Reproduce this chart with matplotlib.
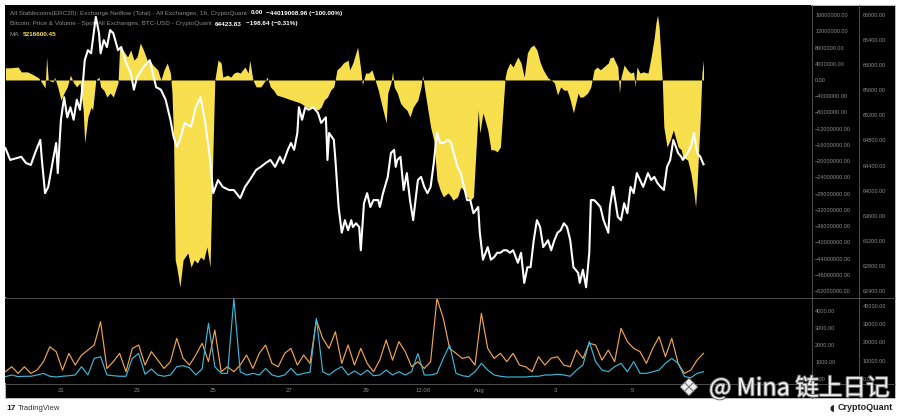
import numpy as np
import pandas as pd
import matplotlib
matplotlib.use("Agg")
import matplotlib.pyplot as plt
from matplotlib.lines import Line2D
from matplotlib.patches import Rectangle
import matplotlib.patheffects as pe

plt.rcParams['font.family'] = ['Liberation Sans', 'DejaVu Sans']

START = pd.Timestamp('2024-07-19 13:00')

# BTC price (hours after START, USD)
price_hours = [0, 3, 10, 13, 16, 19, 22, 23, 25, 27,
               30, 32, 33, 35, 37, 39, 41, 43, 45, 47,
               49, 50, 52, 54, 57, 59, 60, 62, 64, 66,
               68, 71, 73, 76, 79, 81, 83, 87, 91, 95,
               98, 101, 104, 106, 108, 110, 113, 117, 120, 123,
               126, 129, 131, 134, 137, 141, 144, 148, 151, 154,
               158, 161, 164, 167, 170, 173, 175, 178, 180, 182,
               184, 185, 187, 189, 191, 194, 197, 199, 202, 203,
               204, 207, 208, 210, 212, 214, 216, 218, 219, 221,
               223, 224, 226, 228, 230, 232, 235, 236, 238, 241,
               243, 245, 246, 247, 249, 251, 253, 255, 257, 260,
               262, 264, 266, 268, 270, 272, 274, 276, 279, 281,
               282, 285, 287, 289, 291, 293, 295, 298, 299, 301,
               304, 306, 308, 310, 312, 314, 316, 318, 320, 323,
               325, 327, 329, 331, 333, 335, 337, 339, 342, 344,
               346, 348, 350, 352, 354, 356, 358, 361, 362, 364,
               366, 368, 369, 371, 373, 375, 377, 380, 381, 383,
               386, 388, 390, 392, 394, 396, 398, 400, 402, 405,
               407, 409, 411, 413, 415, 417, 419, 421, 424, 426,
               427, 430, 432, 434, 436, 438, 440]
price_usd = [64680, 64490, 64540, 64440, 64410, 64620, 64810, 64490, 63960, 64060,
             64490, 64760, 64280, 65130, 65490, 65170, 65330, 65130, 65450, 65290,
             65760, 66080, 66240, 66190, 66770, 66510, 66190, 66400, 66290, 66560,
             66510, 66240, 66290, 66040, 65880, 65610, 65810, 65970, 66080, 65650,
             65610, 65450, 65130, 64860, 64700, 64810, 65080, 65020, 65330, 65490,
             65080, 64490, 63960, 64170, 64060, 64010, 64010, 63880, 64060, 64170,
             64330, 64380, 64440, 64490, 64380, 64540, 64440, 64650, 64760, 64650,
             64920, 65330, 65130, 65330, 65290, 65330, 65240, 65080, 65170, 64490,
             64920, 64810, 64490, 63740, 63330, 63530, 63370, 63530, 63420, 63480,
             63420, 63050, 63800, 63960, 63740, 63850, 63850, 63740, 63960, 64220,
             64600, 64650, 64380, 64490, 64540, 64010, 64280, 63850, 63530, 64170,
             64220, 64060, 63960, 64060, 64440, 64920, 64760, 64760, 64810, 64760,
             64650, 64380, 64280, 64060, 63850, 63850, 63640, 63740, 63330, 62900,
             63100, 62900, 62940, 63010, 63010, 63050, 63050, 63010, 63050, 62850,
             63010, 62530, 62780, 62780, 63210, 63530, 63420, 63100, 63210, 63050,
             63210, 63330, 63370, 63480, 63420, 63210, 62780, 62690, 62530, 62740,
             62460, 63010, 63850, 63850, 63800, 63740, 63530, 63330, 63740, 64060,
             63580, 63530, 63800, 63640, 64060, 63960, 64280, 64170, 64060, 64280,
             64170, 64220, 64120, 64060, 64010, 64380, 64490, 64810, 64600, 64540,
             64490, 64600, 64700, 64920, 64600, 64540, 64420]

# stablecoin exchange netflow (hours after START, million USD)
netflow_hours = [0, 3, 8, 10, 14, 18, 21, 23, 25, 26,
                 27, 30, 31, 33, 35, 37, 39, 41, 43, 45,
                 47, 49, 50, 52, 54, 55, 57, 59, 60, 62,
                 64, 66, 68, 71, 72, 74, 77, 79, 81, 83,
                 85, 87, 90, 91, 93, 96, 98, 100, 102, 104,
                 105, 106, 107, 108, 110, 112, 115, 117, 119, 121,
                 123, 125, 127, 129, 130, 132, 134, 136, 137, 140,
                 142, 144, 146, 148, 151, 153, 154, 156, 158, 161,
                 164, 165, 167, 169, 171, 175, 180, 184, 186, 190,
                 194, 197, 199, 201, 203, 205, 207, 209, 211, 213,
                 216, 217, 219, 222, 224, 225, 227, 229, 231, 233,
                 235, 236, 238, 240, 241, 243, 244, 245, 247, 249,
                 251, 253, 255, 257, 260, 262, 263, 264, 266, 268,
                 270, 272, 274, 276, 279, 281, 282, 285, 287, 289,
                 291, 293, 295, 298, 299, 301, 304, 306, 308, 310,
                 312, 314, 315, 316, 318, 320, 323, 325, 327, 329,
                 331, 333, 335, 337, 339, 342, 344, 346, 348, 350,
                 352, 354, 356, 358, 361, 362, 364, 367, 369, 371,
                 373, 375, 377, 380, 381, 383, 386, 387, 388, 390,
                 392, 394, 396, 397, 398, 400, 402, 405, 407, 409,
                 410, 411, 412, 414, 415, 417, 419, 421, 424, 426,
                 427, 430, 432, 434, 435, 436, 438, 439, 440]
netflow_musd = [3.0, 3.0, 3.2, 2.0, 2.0, 1.2, 0.5, -0.7, -2.0, 5.7,
                0.0, -0.5, 0.7, -1.7, -4.9, -3.2, -1.7, 1.2, -0.7, -1.7,
                -0.7, -7.4, -15.5, -9.1, -6.7, -7.4, 0.0, 0.7, -1.7, -2.5,
                -4.2, -3.2, -4.2, -0.7, 8.1, 7.4, 5.7, 7.4, 4.9, 5.7,
                9.1, 7.4, 4.2, 4.9, 3.7, 2.5, 0.0, 2.5, 4.2, 1.7,
                -3.2, -14.8, -44.3, -46.1, -51.0, -44.3, -42.6, -46.1, -44.3, -45.1,
                -43.6, -44.3, -41.1, -46.1, -29.6, 0.0, 4.9, 4.2, 0.7, 1.2,
                0.7, 1.7, 2.0, 1.7, 3.2, 1.7, 4.9, 0.0, -1.7, -1.7,
                0.0, 0.7, -1.7, -2.5, -3.7, -4.2, -4.9, -5.4, -5.7, -6.7,
                -6.9, -7.4, -6.7, -4.9, -4.2, -2.5, -1.7, 2.5, 3.2, 4.2,
                4.9, 2.5, 4.2, 8.1, 2.5, -1.2, 1.7, 1.7, 2.5, 0.0,
                -2.5, -4.2, -7.4, -10.6, -3.2, -0.7, 2.0, -1.7, -3.2, -5.7,
                -6.7, -7.4, -9.1, -6.7, -4.9, -1.7, 1.2, -1.7, -6.7, -11.6,
                -14.8, -24.6, -27.1, -28.8, -27.8, -28.8, -29.6, -28.8, -26.4, -27.1,
                -28.8, -29.6, -28.8, -7.4, -13.1, -8.1, -12.3, -17.2, -17.2, -17.7,
                -16.5, -4.9, 0.7, 2.5, 4.2, 3.2, 5.7, 4.2, 0.7, 6.7,
                8.1, 8.6, 7.4, 4.4, 2.5, 0.5, 0.0, -0.7, -3.7, -1.7,
                -2.5, -2.5, -4.9, -8.1, -3.2, -4.2, -4.2, -3.2, -1.7, 2.5,
                3.2, 2.5, 3.2, 4.2, 5.4, 5.7, 3.2, -3.2, 0.7, 3.7,
                2.5, 1.7, 2.0, -1.7, 3.2, 1.7, 2.0, 1.7, 5.7, 10.6,
                14.0, 16.0, 13.1, 0.0, -11.6, -16.5, -14.8, -12.3, -16.5, -17.2,
                -19.0, -19.7, -22.9, -27.8, -31.3, -25.4, -9.1, 1.7, 4.9]

# lower panel, one reading every 4 hours
band_hours = np.arange(0, 441, 4)
spent_1k_10k = [430, 720, 330, 720, 330, 530, 1020, 1900, 1610, 520,
                1510, 820, 1410, 1700, 2000, 3370, 620, 1020, 1510, 430,
                1800, 2000, 820, 1610, 1120, 620, 1020, 2390, 1220, 820,
                1410, 2100, 1020, 2880, 430, 720, 430, 820, 1410, 620,
                1510, 2000, 920, 720, 1510, 1800, 820, 1410, 920, 3470,
                2390, 1800, 2780, 920, 2000, 820, 1800, 920, 430, 1120,
                2290, 1110, 2200, 1610, 720, 1020, 620, 1020, 4740, 3570,
                1800, 1510, 1210, 1310, 820, 3860, 1800, 1210, 1510, 1020,
                1510, 820, 720, 430, 1310, 820, 1220, 1310, 820, 720,
                1700, 1210, 2100, 2000, 1110, 1700, 1020, 2980, 2200, 1800,
                1610, 920, 1800, 2490, 1310, 2390, 920, 330, 530, 1120,
                1510]
inflow_10_1k = [1300, 2200, 1300, 1500, 1500, 2200, 3100, 1500, 1100, 1500,
                1800, 2200, 6750, 2200, 11300, 12200, 2200, 1800, 1500, 1500,
                11300, 14000, 2600, 5500, 2200, 1500, 2200, 6750, 7300, 6200,
                2200, 5500, 30500, 6750, 3100, 3100, 44000, 4000, 2200, 3100,
                2200, 5800, 2200, 1300, 2200, 5800, 2200, 3100, 3700, 33200,
                4000, 2200, 4900, 6750, 2200, 4400, 2200, 4900, 1800, 2200,
                4900, 2200, 4000, 2200, 4000, 14000, 2200, 2200, 3100, 11300,
                18600, 3100, 1800, 1300, 4000, 8600, 4900, 2200, 1500, 1100,
                1100, 1100, 1100, 1500, 1500, 2200, 2200, 2600, 2200, 1500,
                4900, 7700, 20500, 9500, 4900, 4000, 6750, 8600, 4000, 9500,
                3100, 3100, 4000, 4900, 8600, 11300, 8600, 1300, 700, 3100,
                4000]

tick_dates = pd.to_datetime(['2024-07-21 00:00', '2024-07-23 00:00', '2024-07-25 00:00',
                             '2024-07-27 00:00', '2024-07-29 00:00', '2024-07-30 12:00',
                             '2024-08-01 00:00', '2024-08-03 00:00', '2024-08-05 00:00'])
tick_labels = ['21', '23', '25', '27', '29', '12:00', 'Aug', '3', '5']

YELLOW = '#f7df4e'
ORANGE = '#f0a44a'
BLUE = '#3db5d6'
GREY = '#8c8c8c'
LINE = '#5a5a5a'

W, H = 900, 418


def fx(px):
    return px / W


def fy(py):
    return 1 - py / H


def to_time(hours):
    return START + pd.to_timedelta(np.asarray(hours, dtype=float), unit='h')


def fmt(v):
    return f"{v:.2f}".replace('-', '\u2212')


fig = plt.figure(figsize=(9, 4.18), dpi=100, facecolor='white')
fig.add_artist(Rectangle((fx(5), fy(398)), fx(890), 393 / H, transform=fig.transFigure,
                         facecolor='black', edgecolor='#c8c8c8', lw=0.6, zorder=0))

ax = fig.add_axes([fx(5), fy(297), fx(806), 292 / H])
axb = fig.add_axes([fx(5), fy(383), fx(806), 85 / H])

xlim = (START - pd.Timedelta(minutes=15), START + pd.Timedelta(hours=508) - pd.Timedelta(minutes=15))

# ======
# Top panel: netflow area + price line
# ======
nf_t = to_time(netflow_hours)
nf_v = np.array(netflow_musd) * 1e6
ax.fill_between(nf_t, nf_v, 0, color=YELLOW, lw=0, interpolate=True)
ax.set_ylim(-53.45e6, 18.47e6)
nf_ticks = np.arange(-52e6, 16e6 + 1, 4e6)
ax.set_yticks(nf_ticks)
ax.set_yticklabels([fmt(v) for v in nf_ticks])

axp = ax.twinx()
axp.plot(to_time(price_hours), price_usd, color='white', lw=1.5, solid_joinstyle='round')
axp.set_ylim(62305, 66960)
p_ticks = np.arange(62400, 66801, 400)
axp.set_yticks(p_ticks)
axp.set_yticklabels([fmt(v) for v in p_ticks])
axp.spines['right'].set_position(('outward', 34))
ax.yaxis.tick_right()  # twinx moved it to the left

# ======
# Bottom panel: spent output bands
# ======
b_t = to_time(band_hours)
axb.plot(b_t, spent_1k_10k, color=ORANGE, lw=0.85)
axb.set_ylim(-235, 4765)
o_ticks = np.arange(0, 4001, 1000)
axb.set_yticks(o_ticks)
axb.set_yticklabels([fmt(v) for v in o_ticks])

axb2 = axb.twinx()
axb2.plot(b_t, inflow_10_1k, color=BLUE, lw=0.85)
axb2.set_ylim(-2190, 44380)
bl_ticks = np.arange(0, 40001, 10000)
axb2.set_yticks(bl_ticks)
axb2.set_yticklabels([fmt(v) for v in bl_ticks])
axb2.spines['right'].set_position(('outward', 34))
axb.yaxis.tick_right()

for a in (ax, axp, axb, axb2):
    a.set_xlim(*xlim)
    for s in a.spines.values():
        s.set_visible(False)
    a.tick_params(axis='y', length=0, pad=3, labelsize=4, labelcolor=GREY)
ax.set_facecolor('black')
axb.set_facecolor('black')
ax.set_xticks([])
axb.set_xticks(tick_dates)
axb.set_xticklabels(tick_labels)
axb.tick_params(axis='x', length=0, pad=3.5, labelsize=4.3, labelcolor=GREY)

# separators
for xx in (811.5, 858.5):
    fig.add_artist(Line2D([fx(xx)] * 2, [fy(5), fy(398)], color=LINE, lw=0.6))
for yy in (297.5, 383.5):
    fig.add_artist(Line2D([fx(5), fx(895)], [fy(yy)] * 2, color=LINE, lw=0.6))


# legends
def legend_row(y, parts):
    prev = None
    for txt, color, weight in parts:
        if prev is None:
            prev = ax.annotate(txt, xy=(fx(10), fy(y)), xycoords='figure fraction',
                               color=color, fontsize=4.6, fontweight=weight,
                               va='center', ha='left', annotation_clip=False)
        else:
            prev = ax.annotate(txt, xy=(1, 0.5), xycoords=prev, xytext=(2.5, 0),
                               textcoords='offset points', color=color, fontsize=4.6,
                               fontweight=weight, va='center', ha='left',
                               annotation_clip=False)


legend_row(13, [("All Stablecoins(ERC20): Exchange Netflow (Total) - All Exchanges, 1h, CryptoQuant", GREY, 'normal'),
                ("0.00", 'white', 'bold'),
                ("\u221244019008.96 (\u2212100.00%)", 'white', 'bold')])
legend_row(24, [("Bitcoin: Price & Volume - Spot, All Exchanges, BTC-USD - CryptoQuant", GREY, 'normal'),
                ("64423.83", 'white', 'bold'),
                ("\u2212198.64 (\u22120.31%)", 'white', 'bold')])
legend_row(34, [("MA", GREY, 'normal'),
                ("5216600.45", YELLOW, 'bold')])
legend_row(309, [("Bitcoin: Spent Output Value Bands [1K - 10K BTC] - CryptoQuant", GREY, 'normal'),
                 ("3341.36", ORANGE, 'bold'),
                 ("\u221210377.89 (\u221275.64%)", ORANGE, 'bold')])
legend_row(320, [("Bitcoin: Exchange Inflow - Spent Output Value Bands - All Exchanges [10 - 1K BTC] - CryptoQuant", GREY, 'normal'),
                 ("0.14", BLUE, 'bold'),
                 ("\u2212816.67 (\u221299.98%)", BLUE, 'bold')])

# footer
fig.text(fx(6), fy(408), "17", fontsize=6, fontweight='bold', color='#131722', va='center', ha='left')
fig.text(fx(18), fy(408), "TradingView", fontsize=5.5, color='#333333', va='center', ha='left')
fig.text(fx(829), fy(408), "\u25d6", fontsize=6.5, color='#222222', va='center', ha='left',
         family=['DejaVu Sans'])
fig.text(fx(893), fy(408), "CryptoQuant", fontsize=6.5, fontweight='bold', color='#222222',
         va='center', ha='right')

# watermark
halo = [pe.withStroke(linewidth=1.4, foreground='#707070')]
fig.text(fx(689), fy(389), "\u2756", fontsize=16, color='#eeeeee', va='center', ha='center',
         family=['DejaVu Sans'], path_effects=halo, zorder=10)
fig.text(fx(709), fy(388), "@ Mina 链上日记", fontsize=17, color='#f0f0f0',
         family=['Noto Sans CJK SC', 'DejaVu Sans'], va='center', ha='left',
         path_effects=halo, zorder=10)

fig.savefig("out.png", dpi=100, facecolor='white')
